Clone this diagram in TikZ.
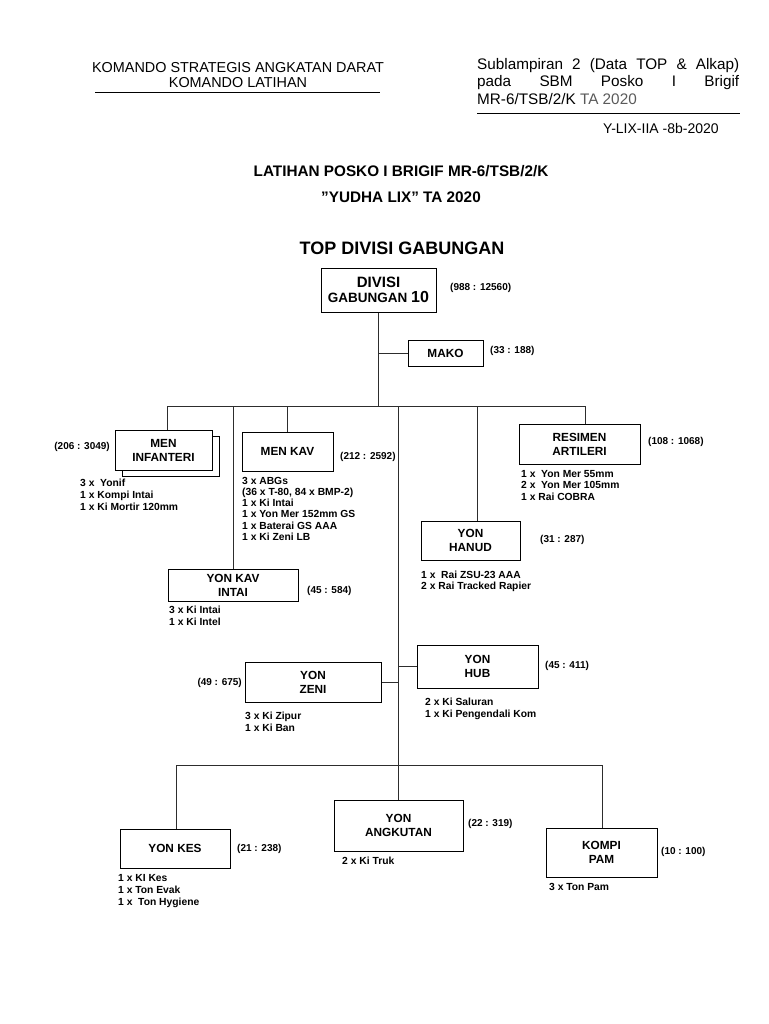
\documentclass[tikz,border=0pt]{standalone}
\usepackage{fontspec}
\setmainfont{Liberation Sans}
\usepackage{xcolor}
\definecolor{garis}{RGB}{45,45,45}
\definecolor{abu}{RGB}{90,90,90}

\tikzset{
  satuan/.style={draw=black, line width=1pt, fill=white, align=center,
    font=\fontsize{11.8}{14}\selectfont\bfseries, inner sep=2pt},
  kekuatan/.style={anchor=west, inner sep=0pt, font=\fontsize{10}{11}\selectfont\bfseries},
  rincian/.style={anchor=north west, align=left, inner sep=0pt,
    font=\fontsize{10.3}{12}\selectfont\bfseries},
  hubung/.style={draw=garis, line width=1pt},
}

\begin{document}
\begin{tikzpicture}[x=1pt, y=-1pt]
  \fill[white] (0,0) rectangle (768,1024);
  \useasboundingbox (0,0) rectangle (768,1024);

  % kop surat
  \node [align=center, font=\fontsize{14.4}{15.5}\selectfont] (kop) at (238,75)
    {KOMANDO STRATEGIS ANGKATAN DARAT\\KOMANDO LATIHAN};
  \draw [line width=1pt] (95,93) -- (380,93);
  \node [anchor=north west, align=left, inner sep=0pt,
         font=\fontsize{15.3}{17.5}\selectfont] (lampiran) at (477,58)
    {\makebox[262pt][s]{Sublampiran 2 (Data TOP \& Alkap)}\\
     \makebox[262pt][s]{pada SBM Posko I Brigif}\\
     MR-6/TSB/2/K \textcolor{abu}{TA 2020}};
  \draw [line width=1pt] (477,114) -- (740,114);
  \node [anchor=west, inner sep=0pt, font=\fontsize{14}{15}\selectfont] (nomor) at (603,128) {Y-LIX-IIA -8b-2020};

  % judul
  \node [font=\fontsize{15.3}{17}\selectfont\bfseries] (judul1) at (401,171) {LATIHAN POSKO I BRIGIF MR-6/TSB/2/K};
  \node [font=\fontsize{15.3}{17}\selectfont\bfseries] (judul2) at (401,197) {"YUDHA LIX" TA 2020};
  \node [font=\fontsize{18}{20}\selectfont\bfseries] (judul3) at (402,248) {TOP DIVISI GABUNGAN};

  % pucuk pimpinan
  \node [satuan, minimum width=115pt, minimum height=44pt] (divisi) at (378.5,290)
    {{\fontsize{15}{16}\selectfont DIVISI}\\[1pt]
     {\fontsize{13.5}{15}\selectfont GABUNGAN \fontsize{16}{16}\selectfont 10}};
  \node [kekuatan] (kdivisi) at (450,288) {(988 : 12560)};

  \node [satuan, minimum width=75pt, minimum height=26pt] (mako) at (445.5,353) {MAKO};
  \node [kekuatan] (kmako) at (490,351) {(33 : 188)};

  % garis komando
  \coordinate (bar1L) at (167,406);
  \coordinate (bar1R) at (585,406);
  \coordinate (bar2L) at (176,765);
  \coordinate (bar2R) at (602,765);

  % resimen
  \node [satuan, minimum width=97pt, minimum height=40pt] (meninfb) at (171,456) {};
  \node [satuan, minimum width=97pt, minimum height=40pt] (meninf) at (163.5,450) {MEN\\INFANTERI};
  \node [kekuatan, anchor=east] (kmeninf) at (110,447) {(206 : 3049)};
  \node [rincian] (rmeninf) at (80,479) {3 x~ Yonif\\1 x Kompi Intai\\1 x Ki Mortir 120mm};

  \node [satuan, minimum width=91pt, minimum height=39pt] (menkav) at (287.5,451.5) {MEN KAV};
  \node [kekuatan] (kmenkav) at (340,457) {(212 : 2592)};
  \node [rincian, font=\fontsize{10.3}{11.2}\selectfont\bfseries] (rmenkav) at (242,477)
    {3 x ABGs\\(36 x T-80, 84 x BMP-2)\\1 x Ki Intai\\1 x Yon Mer 152mm GS\\1 x Baterai GS AAA\\1 x Ki Zeni LB};

  \node [satuan, minimum width=121pt, minimum height=40pt] (artileri) at (579.5,444) {RESIMEN\\ARTILERI};
  \node [kekuatan] (kartileri) at (648,442) {(108 : 1068)};
  \node [rincian, font=\fontsize{10.3}{11.5}\selectfont\bfseries] (rartileri) at (521,470)
    {1 x~ Yon Mer 55mm\\2 x~ Yon Mer 105mm\\1 x Rai COBRA};

  % batalyon
  \node [satuan, minimum width=99pt, minimum height=39pt] (hanud) at (470.5,540.5) {YON\\HANUD};
  \node [kekuatan] (khanud) at (540,540) {(31 : 287)};
  \node [rincian, font=\fontsize{10.3}{11}\selectfont\bfseries] (rhanud) at (421,571)
    {1 x~ Rai ZSU-23 AAA\\2 x Rai Tracked Rapier};

  \node [satuan, minimum width=130pt, minimum height=32pt] (kavintai) at (233,585) {YON KAV\\INTAI};
  \node [kekuatan] (kkavintai) at (307,591) {(45 : 584)};
  \node [rincian] (rkavintai) at (169,606) {3 x Ki Intai\\1 x Ki Intel};

  \node [satuan, minimum width=121pt, minimum height=43pt] (hub) at (477.5,666.5) {YON\\HUB};
  \node [kekuatan] (khub) at (545,666) {(45 : 411)};
  \node [rincian] (rhub) at (425,698) {2 x Ki Saluran\\1 x Ki Pengendali Kom};

  \node [satuan, minimum width=136pt, minimum height=40pt] (zeni) at (313,682) {YON\\ZENI};
  \node [kekuatan, anchor=east] (kzeni) at (242,683) {(49 : 675)};
  \node [rincian] (rzeni) at (245,712) {3 x Ki Zipur\\1 x Ki Ban};

  \node [satuan, minimum width=110pt, minimum height=39pt] (kes) at (175,848.5) {YON KES};
  \node [kekuatan] (kkes) at (237,849) {(21 : 238)};
  \node [rincian] (rkes) at (118,874) {1 x KI Kes\\1 x Ton Evak\\1 x~ Ton Hygiene};

  \node [satuan, minimum width=129pt, minimum height=51pt] (angkutan) at (398.5,825.5) {YON\\ANGKUTAN};
  \node [kekuatan] (kangkutan) at (468,824) {(22 : 319)};
  \node [rincian] (rangkutan) at (342,857) {2 x Ki Truk};

  \node [satuan, minimum width=111pt, minimum height=49pt] (pam) at (601.5,852.5) {KOMPI\\PAM};
  \node [kekuatan] (kpam) at (661,852) {(10 : 100)};
  \node [rincian] (rpam) at (549,883) {3 x Ton Pam};

  % hubungan
  \draw [hubung] (divisi.south) -- (divisi.south |- bar1L);
  \draw [hubung] (mako.west) -- (mako.west -| divisi.south);
  \draw [hubung] (bar1L) -- (bar1R);
  \draw [hubung] (bar1L) -- (meninf.north -| bar1L);
  \draw [hubung] (kavintai.north) -- (kavintai.north |- bar1L);
  \draw [hubung] (menkav.north) -- (menkav.north |- bar1L);
  \draw [hubung] (angkutan.north) -- (angkutan.north |- bar1L);
  \draw [hubung] ([xshift=6.5pt]hanud.north) -- ([xshift=6.5pt]hanud.north |- bar1L);
  \draw [hubung] (bar1R) -- (artileri.north -| bar1R);
  \draw [hubung] (hub.west) -- (hub.west -| angkutan.north);
  \draw [hubung] (zeni.east) -- (zeni.east -| angkutan.north);
  \draw [hubung] (bar2L) -- (bar2R);
  \draw [hubung] (bar2L) -- (kes.north -| bar2L);
  \draw [hubung] (bar2R) -- (pam.north -| bar2R);
\end{tikzpicture}
\end{document}
